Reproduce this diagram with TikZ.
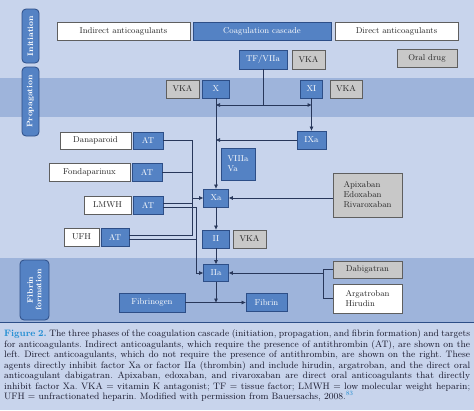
\documentclass[tikz,border=0pt]{standalone}
\usetikzlibrary{arrows.meta,positioning}
\definecolor{bandlight}{RGB}{200,212,236}
\definecolor{bandmid}{RGB}{158,180,219}
\definecolor{boxblue}{RGB}{84,130,196}
\definecolor{bluedraw}{RGB}{45,78,135}
\definecolor{greyfill}{RGB}{200,200,200}
\definecolor{greydraw}{RGB}{95,95,95}
\definecolor{linecol}{RGB}{40,55,90}
\definecolor{capblue}{RGB}{30,140,210}
\definecolor{captext}{RGB}{25,25,45}
\tikzset{
  box/.style={rectangle,draw,line width=0.8pt,inner sep=0pt,font=\fontsize{8.5}{10}\selectfont},
  bluebox/.style={box,draw=bluedraw,fill=boxblue,text=white},
  greybox/.style={box,draw=greydraw,fill=greyfill,text=black!85},
  whitebox/.style={box,draw=greydraw,fill=white,text=black!85},
  phase/.style={rectangle,rounded corners=4pt,draw=bluedraw,fill=boxblue,text=white,line width=0.8pt,
    rotate=90,inner sep=0pt,align=center,font=\fontsize{8}{8.5}\selectfont\bfseries},
  link/.style={draw=linecol,line width=0.75pt},
  tip/.style={link,-{Triangle[length=4pt,width=3.5pt]}}
}
\begin{document}
\begin{tikzpicture}[x=1pt,y=-1pt]
\useasboundingbox (0,0) rectangle (474,410);
\fill[bandlight] (0,0) rectangle (474,410);
\fill[bandmid] (0,78) rectangle (474,117);
\fill[bandmid] (0,258) rectangle (474,322);
\draw[bluedraw,line width=1pt] (0,322) -- (474,322);

\node[phase,minimum width=54pt,minimum height=17pt] (init) at (30.5,36) {Initiation};
\node[phase,minimum width=69pt,minimum height=17pt] (prop) at (30.5,101.5) {Propagation};
\node[phase,minimum width=60pt,minimum height=29pt] (fibform) at (34.5,290) {Fibrin\\formation};

\node[whitebox,minimum width=133pt,minimum height=18pt] (indirect) at (123.5,31) {Indirect anticoagulants};
\node[bluebox,minimum width=138pt,minimum height=18pt] (cascade) at (262,31) {Coagulation cascade};
\node[whitebox,minimum width=123pt,minimum height=18pt] (direct) at (396.5,31) {Direct anticoagulants};
\node[bluebox,minimum width=48pt,minimum height=19pt] (tfviia) at (263,59.5) {TF/VIIa};
\node[greybox,minimum width=33pt,minimum height=19pt] (vkatf) at (308.5,59.5) {VKA};
\node[greybox,minimum width=60pt,minimum height=18pt] (oral) at (427,58) {Oral drug};

\node[greybox,minimum width=33pt,minimum height=18pt] (vkax) at (182.5,89) {VKA};
\node[bluebox,minimum width=27pt,minimum height=18pt] (X) at (216,89) {X};
\node[bluebox,minimum width=22pt,minimum height=18pt] (XI) at (311.5,89) {XI};
\node[greybox,minimum width=32pt,minimum height=18pt] (vkaxi) at (346,89) {VKA};
\node[bluebox,minimum width=29pt,minimum height=18pt] (IXa) at (311.5,140) {IXa};
\node[bluebox,minimum width=34pt,minimum height=32pt,align=left] (VIIIa) at (238,164) {VIIIa\\Va};
\node[bluebox,minimum width=25pt,minimum height=18pt] (Xa) at (216,198) {Xa};
\node[greybox,minimum width=69pt,minimum height=44pt,align=left] (apix) at (367.5,195) {Apixaban\\Edoxaban\\Rivaroxaban};

\node[whitebox,minimum width=71pt,minimum height=17pt] (danap) at (95.5,140.5) {Danaparoid};
\node[bluebox,minimum width=30pt,minimum height=17pt] (at1) at (148,140.5) {AT};
\node[whitebox,minimum width=81pt,minimum height=18pt] (fonda) at (89.5,172) {Fondaparinux};
\node[bluebox,minimum width=30pt,minimum height=18pt] (at2) at (147,172) {AT};
\node[whitebox,minimum width=47pt,minimum height=18pt] (lmwh) at (107.5,205) {LMWH};
\node[bluebox,minimum width=30pt,minimum height=18pt] (at3) at (148,205) {AT};
\node[whitebox,minimum width=35pt,minimum height=18pt] (ufh) at (81.5,237) {UFH};
\node[bluebox,minimum width=28pt,minimum height=18pt] (at4) at (115,237) {AT};

\node[bluebox,minimum width=27pt,minimum height=18pt] (II) at (216,239) {II};
\node[greybox,minimum width=33pt,minimum height=18pt] (vkaii) at (249.5,239) {VKA};
\node[bluebox,minimum width=25pt,minimum height=17pt] (IIa) at (216,273) {IIa};
\node[greybox,minimum width=69pt,minimum height=17pt] (dabi) at (367.5,269.5) {Dabigatran};
\node[whitebox,minimum width=69pt,minimum height=29pt,align=left] (arga) at (367.5,298.5) {Argatroban\\Hirudin};
\node[bluebox,minimum width=66pt,minimum height=19pt] (fibrinogen) at (152,302.5) {Fibrinogen};
\node[bluebox,minimum width=41pt,minimum height=18pt] (fibrin) at (266.5,302.5) {Fibrin};

\coordinate (tfjoin) at (263,105);
\coordinate (jxa) at (192,198);
\coordinate (jiia) at (196,273);
\coordinate (jdab) at (323,273);

\draw[link] (tfviia.south) -- (tfjoin);
\draw[tip] (tfjoin) -- (X.south |- tfjoin);
\draw[tip] (tfjoin) -- (XI.south |- tfjoin);
\draw[tip] (X) -- (Xa);
\draw[tip] (XI) -- (IXa);
\draw[tip] (IXa.west) -- (IXa.west -| X);
\draw[tip] (apix.west |- Xa) -- (Xa.east);

\draw[link] (at1.east) -| (jxa);
\draw[link] (at2.east) -| (jxa);
\draw[link] ([yshift=2pt]at3.east) -| (jxa);
\draw[link] ([yshift=2pt]at4.east) -| (jxa);
\draw[tip] (jxa) -- (Xa.west);
\draw[link] ([yshift=-2pt]at3.east) -| (jiia);
\draw[link] ([yshift=-2pt]at4.east) -| (jiia);
\draw[tip] (jiia) -- (IIa.west);

\draw[tip] (Xa) -- (II);
\draw[tip] (II) -- (IIa);
\draw[link] (dabi.west) -| (jdab);
\draw[link] (jdab) |- (arga.west);
\draw[tip] (jdab) -- (IIa.east);
\draw[tip] (fibrinogen) -- (fibrin);
\draw[tip] (IIa) -- (IIa |- fibrinogen);

\node[anchor=north west,inner sep=0pt,text width=466pt,align=justify,text=captext,
  font=\fontsize{9.3}{10.5}\selectfont\frenchspacing] (caption) at (4,329.5) {%
{\color{capblue}\textbf{Figure 2.}} The three phases of the coagulation cascade (initiation, propagation, and fibrin formation) and targets\linebreak
for anticoagulants. Indirect anticoagulants, which require the presence of antithrombin (AT), are shown on the\linebreak
left. Direct anticoagulants, which do not require the presence of antithrombin, are shown on the right. These\linebreak
agents directly inhibit factor Xa or factor IIa (thrombin) and include hirudin, argatroban, and the direct oral\linebreak
anticoagulant dabigatran. Apixaban, edoxaban, and rivaroxaban are direct oral anticoagulants that directly\linebreak
inhibit factor Xa. VKA = vitamin K antagonist; TF = tissue factor; LMWH = low molecular weight heparin;\linebreak
UFH = unfractionated heparin. Modified with permission from Bauersachs, 2008.\textsuperscript{\color{capblue}83}};
\end{tikzpicture}
\end{document}
